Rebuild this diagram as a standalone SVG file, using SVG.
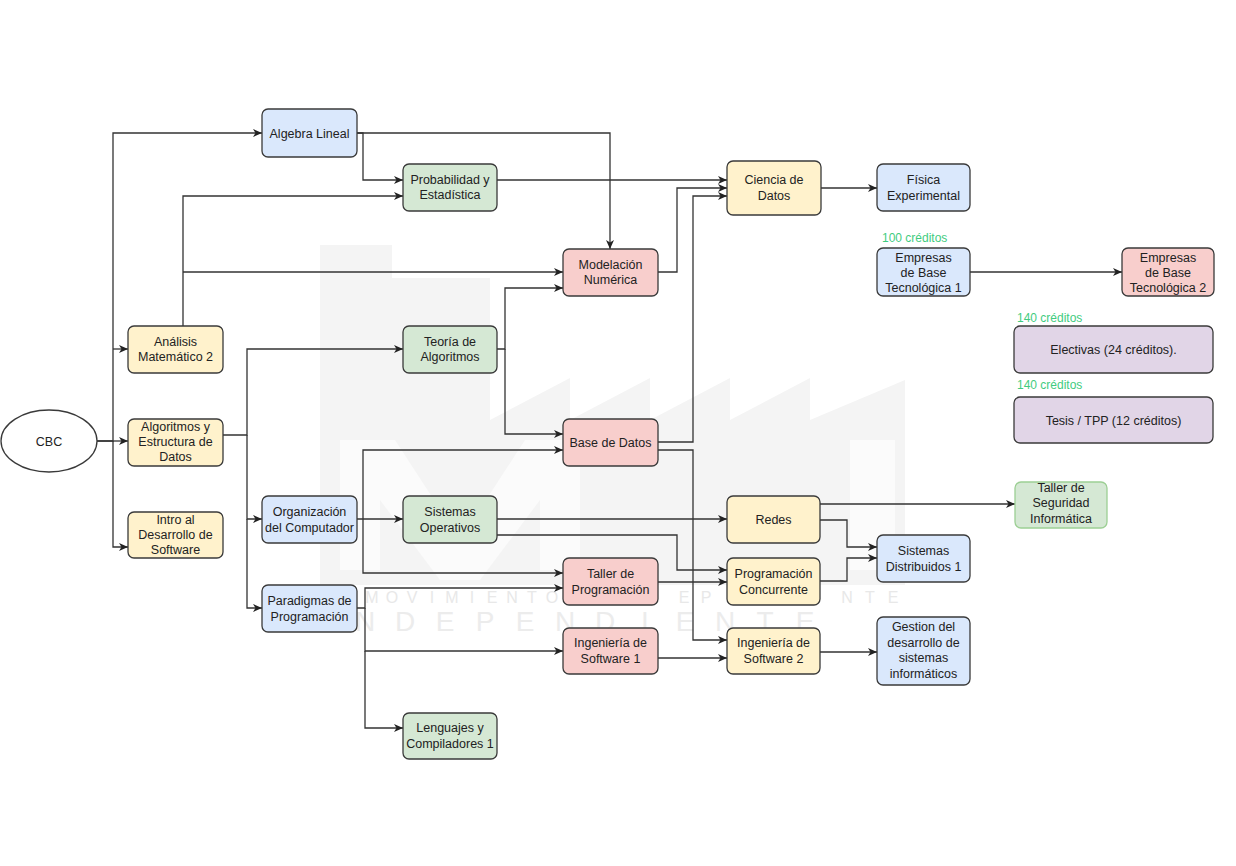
<svg xmlns="http://www.w3.org/2000/svg" width="1236" height="866" viewBox="0 0 1236 866">
<style>
.n{stroke:#3a3a3a;stroke-width:1.3}
.b{fill:#dae8fc}.g{fill:#d5e8d4}.y{fill:#fff2cc}.r{fill:#f8cecc}.p{fill:#e1d5e7}
.t{font-family:"Liberation Sans",Arial,sans-serif;font-size:12.5px;fill:#222;text-anchor:middle}
.cr{font-family:"Liberation Sans",Arial,sans-serif;font-size:12px;fill:#3fcc80}
.e{fill:none;stroke:#333;stroke-width:1.3}
.wm{fill:#f4f4f4}
.w1{font-family:"Liberation Sans",Arial,sans-serif;fill:#e8e8e8;font-size:16px;text-anchor:middle}
.w2{font-family:"Liberation Sans",Arial,sans-serif;fill:#ececec;font-size:28px;text-anchor:middle}
</style>
<defs>
<marker id="a" markerWidth="10" markerHeight="8" refX="9" refY="4" orient="auto" markerUnits="userSpaceOnUse">
<path d="M0,0 L9,4 L0,8 L2.5,4 Z" fill="#222"/>
</marker>
</defs>
<rect width="1236" height="866" fill="#fff"/>
<g id="watermark">
<polygon class="wm" points="320,245 392,245 392,278 490,278 490,420 570,378 570,420 650,378 650,420 730,378 730,420 810,378 810,420 905,380 905,585 320,585"/>
<polygon fill="#fbfbfb" points="340,440 395,440 460,540 525,440 580,440 580,570 540,570 540,500 480,580 440,580 380,500 380,570 340,570"/>
<rect x="850" y="440" width="45" height="130" fill="#fbfbfb"/>
<text class="w1" y="603"><tspan x="372">M</tspan><tspan x="392">O</tspan><tspan x="412">V</tspan><tspan x="432">I</tspan><tspan x="452">M</tspan><tspan x="472">I</tspan><tspan x="492">E</tspan><tspan x="512">N</tspan><tspan x="532">T</tspan><tspan x="552">O</tspan></text>
<text class="w1" y="603"><tspan x="684">E</tspan><tspan x="706">P</tspan></text>
<text class="w1" y="603"><tspan x="847">N</tspan><tspan x="870">T</tspan><tspan x="893">E</tspan></text>
<text class="w2" y="631"><tspan x="365">N</tspan><tspan x="405">D</tspan><tspan x="445">E</tspan><tspan x="485">P</tspan><tspan x="525">E</tspan><tspan x="565">N</tspan><tspan x="605">D</tspan><tspan x="645">I</tspan><tspan x="685">E</tspan><tspan x="725">N</tspan><tspan x="765">T</tspan><tspan x="805">E</tspan></text>
</g>
<g id="connectors">
<path class="e" d="M97,441 H128" marker-end="url(#a)"/>
<path class="e" d="M97,441 H113 V133 H262" marker-end="url(#a)"/>
<path class="e" d="M113,349 H128" marker-end="url(#a)"/>
<path class="e" d="M113,441 V547 H128" marker-end="url(#a)"/>
<path class="e" d="M183,326 V196 H403" marker-end="url(#a)"/>
<path class="e" d="M183,272 H563" marker-end="url(#a)"/>
<path class="e" d="M357,133 H363 V180 H403" marker-end="url(#a)"/>
<path class="e" d="M357,133 H610 V249" marker-end="url(#a)"/>
<path class="e" d="M497,180 H727" marker-end="url(#a)"/>
<path class="e" d="M658,272 H677 V188 H727" marker-end="url(#a)"/>
<path class="e" d="M658,442 H693 V196 H727" marker-end="url(#a)"/>
<path class="e" d="M223,435 H247 V349 H403" marker-end="url(#a)"/>
<path class="e" d="M247,435 V519 H262" marker-end="url(#a)"/>
<path class="e" d="M247,519 V608 H262" marker-end="url(#a)"/>
<path class="e" d="M497,349 H505 V288 H563" marker-end="url(#a)"/>
<path class="e" d="M505,349 V434 H563" marker-end="url(#a)"/>
<path class="e" d="M357,519 H403" marker-end="url(#a)"/>
<path class="e" d="M363,519 V450 H563" marker-end="url(#a)"/>
<path class="e" d="M363,519 V573 H563" marker-end="url(#a)"/>
<path class="e" d="M497,519 H727" marker-end="url(#a)"/>
<path class="e" d="M497,535 H677 V570 H727" marker-end="url(#a)"/>
<path class="e" d="M658,450 H693 V640 H727" marker-end="url(#a)"/>
<path class="e" d="M658,582 H727" marker-end="url(#a)"/>
<path class="e" d="M357,608 H365 V588 H563" marker-end="url(#a)"/>
<path class="e" d="M365,608 V651 H563" marker-end="url(#a)"/>
<path class="e" d="M365,651 V728 H403" marker-end="url(#a)"/>
<path class="e" d="M658,658 H727" marker-end="url(#a)"/>
<path class="e" d="M820,504 H1015" marker-end="url(#a)"/>
<path class="e" d="M820,520 H847 V547 H877" marker-end="url(#a)"/>
<path class="e" d="M820,581 H847 V558 H877" marker-end="url(#a)"/>
<path class="e" d="M820,652 H877" marker-end="url(#a)"/>
<path class="e" d="M821,188 H877" marker-end="url(#a)"/>
<path class="e" d="M970,272 H1122" marker-end="url(#a)"/>
</g>
<g id="cbc"><ellipse cx="49" cy="441" rx="48" ry="31" fill="#fff" class="n"/><text class="t" x="49" y="445.5">CBC</text></g>
<g id="analisis"><rect class="n y" x="128" y="326" width="95" height="47" rx="6"/><text class="t"><tspan x="175.5" y="346">Análisis</tspan><tspan x="175.5" y="361">Matemático 2</tspan></text></g>
<g id="algoritmos"><rect class="n y" x="128" y="419" width="95" height="47" rx="6"/><text class="t"><tspan x="175.5" y="431">Algoritmos y</tspan><tspan x="175.5" y="446">Estructura de</tspan><tspan x="175.5" y="461">Datos</tspan></text></g>
<g id="intro"><rect class="n y" x="128" y="512" width="95" height="46" rx="6"/><text class="t"><tspan x="175.5" y="524">Intro al</tspan><tspan x="175.5" y="539">Desarrollo de</tspan><tspan x="175.5" y="554">Software</tspan></text></g>
<g id="algebra"><rect class="n b" x="262" y="109" width="95" height="48" rx="6"/><text class="t" x="309.5" y="137.5">Algebra Lineal</text></g>
<g id="probabilidad"><rect class="n g" x="403" y="164" width="94" height="47" rx="6"/><text class="t"><tspan x="450" y="184">Probabilidad y</tspan><tspan x="450" y="199">Estadística</tspan></text></g>
<g id="modelacion"><rect class="n r" x="563" y="249" width="95" height="47" rx="6"/><text class="t"><tspan x="610.5" y="269">Modelación</tspan><tspan x="610.5" y="284">Numérica</tspan></text></g>
<g id="ciencia"><rect class="n y" x="727" y="161" width="94" height="54" rx="6"/><text class="t"><tspan x="774" y="184">Ciencia de</tspan><tspan x="774" y="200">Datos</tspan></text></g>
<g id="fisica"><rect class="n b" x="877" y="164" width="93" height="47" rx="6"/><text class="t"><tspan x="923.5" y="184">Física</tspan><tspan x="923.5" y="200">Experimental</tspan></text></g>
<g id="label100"><text class="cr" x="882" y="242">100 créditos</text></g>
<g id="empresas1"><rect class="n b" x="877" y="248" width="93" height="48" rx="6"/><text class="t"><tspan x="923.5" y="262">Empresas</tspan><tspan x="923.5" y="277">de Base</tspan><tspan x="923.5" y="292">Tecnológica 1</tspan></text></g>
<g id="empresas2"><rect class="n r" x="1122" y="248" width="92" height="48" rx="6"/><text class="t"><tspan x="1168" y="262">Empresas</tspan><tspan x="1168" y="277">de Base</tspan><tspan x="1168" y="292">Tecnológica 2</tspan></text></g>
<g id="label140a"><text class="cr" x="1017" y="322">140 créditos</text></g>
<g id="electivas"><rect class="n p" x="1014" y="326" width="199" height="47" rx="6"/><text class="t" x="1113.5" y="354">Electivas (24 créditos).</text></g>
<g id="label140b"><text class="cr" x="1017" y="389">140 créditos</text></g>
<g id="tesis"><rect class="n p" x="1014" y="397" width="199" height="46" rx="6"/><text class="t" x="1113.5" y="424.5">Tesis / TPP (12 créditos)</text></g>
<g id="teoria"><rect class="n g" x="403" y="326" width="94" height="47" rx="6"/><text class="t"><tspan x="450" y="346">Teoría de</tspan><tspan x="450" y="361">Algoritmos</tspan></text></g>
<g id="basedatos"><rect class="n r" x="563" y="419" width="95" height="47" rx="6"/><text class="t" x="610.5" y="447">Base de Datos</text></g>
<g id="organizacion"><rect class="n b" x="262" y="496" width="95" height="47" rx="6"/><text class="t"><tspan x="309.5" y="516">Organización</tspan><tspan x="309.5" y="532">del Computador</tspan></text></g>
<g id="sistemasop"><rect class="n g" x="403" y="496" width="94" height="47" rx="6"/><text class="t"><tspan x="450" y="516">Sistemas</tspan><tspan x="450" y="532">Operativos</tspan></text></g>
<g id="tallerprog"><rect class="n r" x="563" y="558" width="95" height="47" rx="6"/><text class="t"><tspan x="610.5" y="578">Taller de</tspan><tspan x="610.5" y="594">Programación</tspan></text></g>
<g id="paradigmas"><rect class="n b" x="262" y="585" width="95" height="47" rx="6"/><text class="t"><tspan x="309.5" y="605">Paradigmas de</tspan><tspan x="309.5" y="621">Programación</tspan></text></g>
<g id="ingsw1"><rect class="n r" x="563" y="628" width="95" height="46" rx="6"/><text class="t"><tspan x="610.5" y="647">Ingeniería de</tspan><tspan x="610.5" y="663">Software 1</tspan></text></g>
<g id="lenguajes"><rect class="n g" x="403" y="713" width="94" height="46" rx="6"/><text class="t"><tspan x="450" y="732">Lenguajes y</tspan><tspan x="450" y="748">Compiladores 1</tspan></text></g>
<g id="redes"><rect class="n y" x="727" y="496" width="93" height="47" rx="6"/><text class="t" x="773.5" y="524">Redes</text></g>
<g id="progconc"><rect class="n y" x="727" y="558" width="93" height="47" rx="6"/><text class="t"><tspan x="773.5" y="578">Programación</tspan><tspan x="773.5" y="594">Concurrente</tspan></text></g>
<g id="ingsw2"><rect class="n y" x="727" y="628" width="93" height="46" rx="6"/><text class="t"><tspan x="773.5" y="647">Ingeniería de</tspan><tspan x="773.5" y="663">Software 2</tspan></text></g>
<g id="sisdist"><rect class="n b" x="877" y="535" width="93" height="47" rx="6"/><text class="t"><tspan x="923.5" y="555">Sistemas</tspan><tspan x="923.5" y="571">Distribuidos 1</tspan></text></g>
<g id="gestion"><rect class="n b" x="877" y="617" width="93" height="68" rx="6"/><text class="t"><tspan x="923.5" y="631">Gestion del</tspan><tspan x="923.5" y="647">desarrollo de</tspan><tspan x="923.5" y="662">sistemas</tspan><tspan x="923.5" y="678">informáticos</tspan></text></g>
<g id="seguridad"><rect x="1015" y="482" width="92" height="46" rx="6" fill="#d5e8d4" stroke="#9ccf94" stroke-width="1.3"/><text class="t"><tspan x="1061" y="492">Taller de</tspan><tspan x="1061" y="507">Seguridad</tspan><tspan x="1061" y="523">Informática</tspan></text></g>
</svg>
